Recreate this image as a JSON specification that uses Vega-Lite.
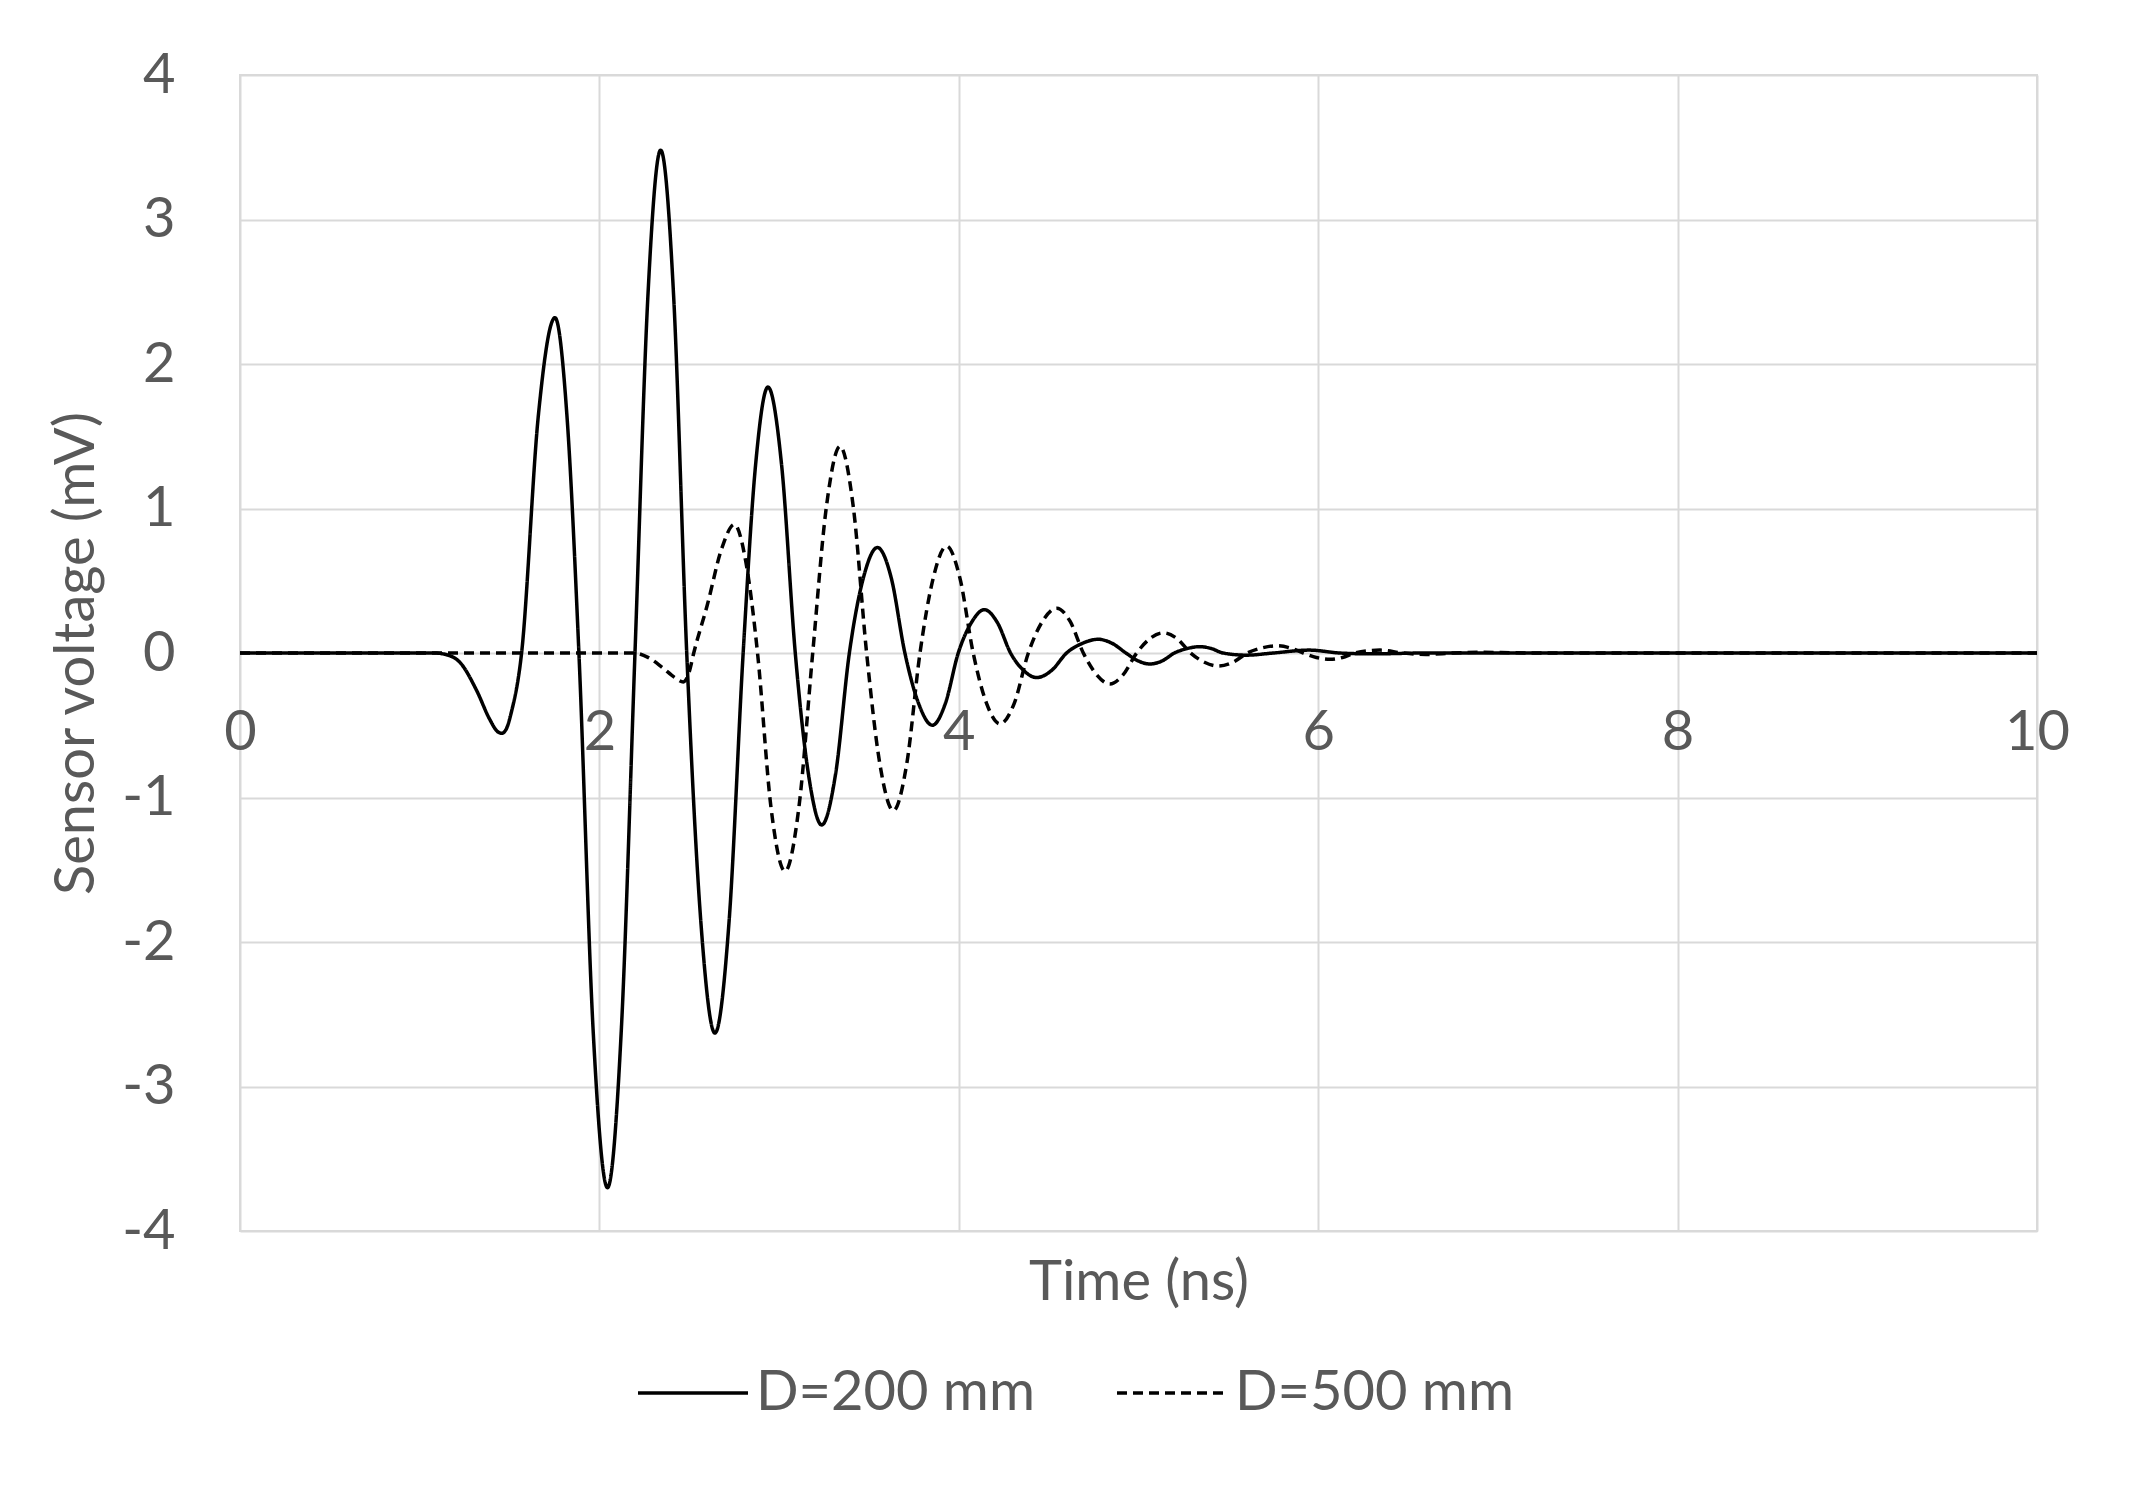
{
  "$schema": "https://vega.github.io/schema/vega-lite/v6.json",
  "width": 1797,
  "height": 1156,
  "autosize": {"type": "none"},
  "padding": {"left": 240, "top": 75, "right": 114, "bottom": 259},
  "background": "white",
  "config": {
    "view": {"stroke": "#d9d9d9", "strokeWidth": 2},
    "font": "Lato"
  },
  "data": {
    "values": [
      {"t": 0, "v": 0, "series": "D=200 mm"},
      {"t": 0.5, "v": 0, "series": "D=200 mm"},
      {"t": 1.0, "v": 0, "series": "D=200 mm"},
      {"t": 1.08, "v": 0, "series": "D=200 mm"},
      {"t": 1.15, "v": -0.012, "series": "D=200 mm"},
      {"t": 1.224, "v": -0.065, "series": "D=200 mm"},
      {"t": 1.317, "v": -0.26, "series": "D=200 mm"},
      {"t": 1.39, "v": -0.46, "series": "D=200 mm"},
      {"t": 1.43, "v": -0.54, "series": "D=200 mm"},
      {"t": 1.456, "v": -0.556, "series": "D=200 mm"},
      {"t": 1.48, "v": -0.53, "series": "D=200 mm"},
      {"t": 1.51, "v": -0.41, "series": "D=200 mm"},
      {"t": 1.567, "v": 0, "series": "D=200 mm"},
      {"t": 1.66, "v": 1.64, "series": "D=200 mm"},
      {"t": 1.753, "v": 2.32, "series": "D=200 mm"},
      {"t": 1.8195, "v": 1.64, "series": "D=200 mm"},
      {"t": 1.886, "v": 0, "series": "D=200 mm"},
      {"t": 1.9655, "v": -2.62, "series": "D=200 mm"},
      {"t": 2.045, "v": -3.7, "series": "D=200 mm"},
      {"t": 2.1215, "v": -2.62, "series": "D=200 mm"},
      {"t": 2.198, "v": 0, "series": "D=200 mm"},
      {"t": 2.2695, "v": 2.46, "series": "D=200 mm"},
      {"t": 2.341, "v": 3.48, "series": "D=200 mm"},
      {"t": 2.4135, "v": 2.46, "series": "D=200 mm"},
      {"t": 2.486, "v": 0, "series": "D=200 mm"},
      {"t": 2.5645, "v": -1.86, "series": "D=200 mm"},
      {"t": 2.643, "v": -2.63, "series": "D=200 mm"},
      {"t": 2.7215, "v": -1.86, "series": "D=200 mm"},
      {"t": 2.8, "v": 0, "series": "D=200 mm"},
      {"t": 2.869, "v": 1.3, "series": "D=200 mm"},
      {"t": 2.938, "v": 1.84, "series": "D=200 mm"},
      {"t": 3.014, "v": 1.3, "series": "D=200 mm"},
      {"t": 3.09, "v": 0, "series": "D=200 mm"},
      {"t": 3.1635, "v": -0.84, "series": "D=200 mm"},
      {"t": 3.237, "v": -1.19, "series": "D=200 mm"},
      {"t": 3.314, "v": -0.84, "series": "D=200 mm"},
      {"t": 3.391, "v": 0, "series": "D=200 mm"},
      {"t": 3.469, "v": 0.52, "series": "D=200 mm"},
      {"t": 3.547, "v": 0.73, "series": "D=200 mm"},
      {"t": 3.624, "v": 0.52, "series": "D=200 mm"},
      {"t": 3.7, "v": 0, "series": "D=200 mm"},
      {"t": 3.7765, "v": -0.35, "series": "D=200 mm"},
      {"t": 3.853, "v": -0.5, "series": "D=200 mm"},
      {"t": 3.925, "v": -0.35, "series": "D=200 mm"},
      {"t": 3.997, "v": 0, "series": "D=200 mm"},
      {"t": 4.07, "v": 0.21, "series": "D=200 mm"},
      {"t": 4.142, "v": 0.3, "series": "D=200 mm"},
      {"t": 4.215, "v": 0.21, "series": "D=200 mm"},
      {"t": 4.288, "v": 0, "series": "D=200 mm"},
      {"t": 4.36, "v": -0.12, "series": "D=200 mm"},
      {"t": 4.433, "v": -0.17, "series": "D=200 mm"},
      {"t": 4.517, "v": -0.12, "series": "D=200 mm"},
      {"t": 4.6, "v": 0, "series": "D=200 mm"},
      {"t": 4.688, "v": 0.067, "series": "D=200 mm"},
      {"t": 4.776, "v": 0.095, "series": "D=200 mm"},
      {"t": 4.853, "v": 0.067, "series": "D=200 mm"},
      {"t": 4.93, "v": 0, "series": "D=200 mm"},
      {"t": 4.997, "v": -0.054, "series": "D=200 mm"},
      {"t": 5.064, "v": -0.076, "series": "D=200 mm"},
      {"t": 5.133, "v": -0.054, "series": "D=200 mm"},
      {"t": 5.2, "v": 0, "series": "D=200 mm"},
      {"t": 5.271, "v": 0.031, "series": "D=200 mm"},
      {"t": 5.342, "v": 0.044, "series": "D=200 mm"},
      {"t": 5.405, "v": 0.031, "series": "D=200 mm"},
      {"t": 5.47, "v": 0, "series": "D=200 mm"},
      {"t": 5.6, "v": -0.015, "series": "D=200 mm"},
      {"t": 5.75, "v": 0, "series": "D=200 mm"},
      {"t": 5.95, "v": 0.02, "series": "D=200 mm"},
      {"t": 6.12, "v": 0, "series": "D=200 mm"},
      {"t": 6.3, "v": -0.006, "series": "D=200 mm"},
      {"t": 6.6, "v": 0, "series": "D=200 mm"},
      {"t": 7.0, "v": 0, "series": "D=200 mm"},
      {"t": 8.0, "v": 0, "series": "D=200 mm"},
      {"t": 9.0, "v": 0, "series": "D=200 mm"},
      {"t": 10.0, "v": 0, "series": "D=200 mm"},

      {"t": 0, "v": 0, "series": "D=500 mm"},
      {"t": 1.0, "v": 0, "series": "D=500 mm"},
      {"t": 2.0, "v": 0, "series": "D=500 mm"},
      {"t": 2.19, "v": 0, "series": "D=500 mm"},
      {"t": 2.27, "v": -0.03, "series": "D=500 mm"},
      {"t": 2.35, "v": -0.1, "series": "D=500 mm"},
      {"t": 2.42, "v": -0.17, "series": "D=500 mm"},
      {"t": 2.467, "v": -0.2, "series": "D=500 mm"},
      {"t": 2.5, "v": -0.13, "series": "D=500 mm"},
      {"t": 2.525, "v": 0, "series": "D=500 mm"},
      {"t": 2.6, "v": 0.33, "series": "D=500 mm"},
      {"t": 2.68, "v": 0.72, "series": "D=500 mm"},
      {"t": 2.751, "v": 0.89, "series": "D=500 mm"},
      {"t": 2.815, "v": 0.63, "series": "D=500 mm"},
      {"t": 2.88, "v": 0, "series": "D=500 mm"},
      {"t": 2.955, "v": -1.07, "series": "D=500 mm"},
      {"t": 3.033, "v": -1.51, "series": "D=500 mm"},
      {"t": 3.11, "v": -1.07, "series": "D=500 mm"},
      {"t": 3.187, "v": 0, "series": "D=500 mm"},
      {"t": 3.263, "v": 1.01, "series": "D=500 mm"},
      {"t": 3.339, "v": 1.43, "series": "D=500 mm"},
      {"t": 3.413, "v": 1.01, "series": "D=500 mm"},
      {"t": 3.487, "v": 0, "series": "D=500 mm"},
      {"t": 3.561, "v": -0.77, "series": "D=500 mm"},
      {"t": 3.636, "v": -1.09, "series": "D=500 mm"},
      {"t": 3.71, "v": -0.77, "series": "D=500 mm"},
      {"t": 3.784, "v": 0, "series": "D=500 mm"},
      {"t": 3.858, "v": 0.52, "series": "D=500 mm"},
      {"t": 3.932, "v": 0.74, "series": "D=500 mm"},
      {"t": 4.006, "v": 0.52, "series": "D=500 mm"},
      {"t": 4.08, "v": 0, "series": "D=500 mm"},
      {"t": 4.155, "v": -0.35, "series": "D=500 mm"},
      {"t": 4.229, "v": -0.49, "series": "D=500 mm"},
      {"t": 4.308, "v": -0.35, "series": "D=500 mm"},
      {"t": 4.387, "v": 0, "series": "D=500 mm"},
      {"t": 4.466, "v": 0.22, "series": "D=500 mm"},
      {"t": 4.545, "v": 0.31, "series": "D=500 mm"},
      {"t": 4.619, "v": 0.22, "series": "D=500 mm"},
      {"t": 4.693, "v": 0, "series": "D=500 mm"},
      {"t": 4.767, "v": -0.15, "series": "D=500 mm"},
      {"t": 4.841, "v": -0.215, "series": "D=500 mm"},
      {"t": 4.915, "v": -0.15, "series": "D=500 mm"},
      {"t": 4.99, "v": 0, "series": "D=500 mm"},
      {"t": 5.064, "v": 0.1, "series": "D=500 mm"},
      {"t": 5.138, "v": 0.14, "series": "D=500 mm"},
      {"t": 5.214, "v": 0.1, "series": "D=500 mm"},
      {"t": 5.29, "v": 0, "series": "D=500 mm"},
      {"t": 5.367, "v": -0.064, "series": "D=500 mm"},
      {"t": 5.444, "v": -0.09, "series": "D=500 mm"},
      {"t": 5.525, "v": -0.064, "series": "D=500 mm"},
      {"t": 5.606, "v": 0, "series": "D=500 mm"},
      {"t": 5.687, "v": 0.035, "series": "D=500 mm"},
      {"t": 5.769, "v": 0.05, "series": "D=500 mm"},
      {"t": 5.843, "v": 0.035, "series": "D=500 mm"},
      {"t": 5.917, "v": 0, "series": "D=500 mm"},
      {"t": 5.99, "v": -0.031, "series": "D=500 mm"},
      {"t": 6.066, "v": -0.044, "series": "D=500 mm"},
      {"t": 6.135, "v": -0.031, "series": "D=500 mm"},
      {"t": 6.205, "v": 0, "series": "D=500 mm"},
      {"t": 6.344, "v": 0.02, "series": "D=500 mm"},
      {"t": 6.47, "v": 0, "series": "D=500 mm"},
      {"t": 6.6, "v": -0.01, "series": "D=500 mm"},
      {"t": 6.75, "v": 0, "series": "D=500 mm"},
      {"t": 6.9, "v": 0.005, "series": "D=500 mm"},
      {"t": 7.2, "v": 0, "series": "D=500 mm"},
      {"t": 8.0, "v": 0, "series": "D=500 mm"},
      {"t": 9.0, "v": 0, "series": "D=500 mm"},
      {"t": 10.0, "v": 0, "series": "D=500 mm"}
    ]
  },
  "encoding": {
    "y": {
      "field": "v",
      "type": "quantitative",
      "title": "Sensor voltage (mV)",
      "scale": {"domain": [-4, 4], "nice": false, "zero": false},
      "axis": {
        "values": [-4, -3, -2, -1, 0, 1, 2, 3, 4],
        "labelExpr": "'' + datum.value",
        "grid": true,
        "gridColor": "#d9d9d9",
        "gridWidth": 2,
        "domain": false,
        "ticks": false,
        "tickSize": 0,
        "labelFont": "Lato",
        "labelFontSize": 56,
        "labelColor": "#595959",
        "labelPadding": 65,
        "titleFont": "Lato",
        "titleFontSize": 56,
        "titleFontWeight": "normal",
        "titleColor": "#595959",
        "titlePadding": 16
      }
    },
    "strokeDash": {
      "field": "series",
      "type": "nominal",
      "scale": {"domain": ["D=200 mm", "D=500 mm"], "range": [[1, 0], [10, 6]]},
      "legend": {
        "title": null,
        "orient": "none",
        "direction": "horizontal",
        "legendX": 396,
        "legendY": 1261,
        "symbolType": "stroke",
        "symbolSize": 12100,
        "symbolStrokeWidth": 3.5,
        "symbolStrokeColor": "black",
        "labelFont": "Lato",
        "labelFontSize": 56,
        "labelColor": "#595959",
        "labelOffset": 6,
        "columnPadding": 75,
        "labelLimit": 0
      }
    }
  },
  "layer": [
    {
      "transform": [{"filter": "datum.series == 'D=200 mm'"}],
      "mark": {"type": "line", "color": "black", "strokeWidth": 3.5, "interpolate": "monotone"},
      "encoding": {
        "x": {
          "field": "t",
          "type": "quantitative",
          "title": "Time (ns)",
          "scale": {"domain": [0, 10], "nice": false},
          "axis": {
            "values": [0, 2, 4, 6, 8, 10],
            "grid": true,
            "gridColor": "#d9d9d9",
            "gridWidth": 2,
            "labels": false,
            "domain": false,
            "ticks": false,
            "tickSize": 0,
            "titleFont": "Lato",
            "titleFontSize": 56,
            "titleFontWeight": "normal",
            "titleColor": "#595959",
            "titlePadding": 24
          }
        }
      }
    },
    {
      "transform": [{"filter": "datum.series == 'D=500 mm'"}],
      "mark": {"type": "line", "color": "black", "strokeWidth": 3.5, "interpolate": "monotone"},
      "encoding": {
        "x": {
          "field": "t",
          "type": "quantitative",
          "scale": {"domain": [0, 10], "nice": false},
          "axis": {
            "orient": "bottom",
            "offset": -578,
            "values": [0, 2, 4, 6, 8, 10],
            "grid": false,
            "domain": false,
            "ticks": false,
            "tickSize": 0,
            "title": null,
            "labelFont": "Lato",
            "labelFontSize": 56,
            "labelColor": "#595959",
            "labelPadding": 52,
            "labelFlush": false,
            "labelOverlap": false
          }
        }
      }
    }
  ],
  "resolve": {"axis": {"x": "independent"}}
}
